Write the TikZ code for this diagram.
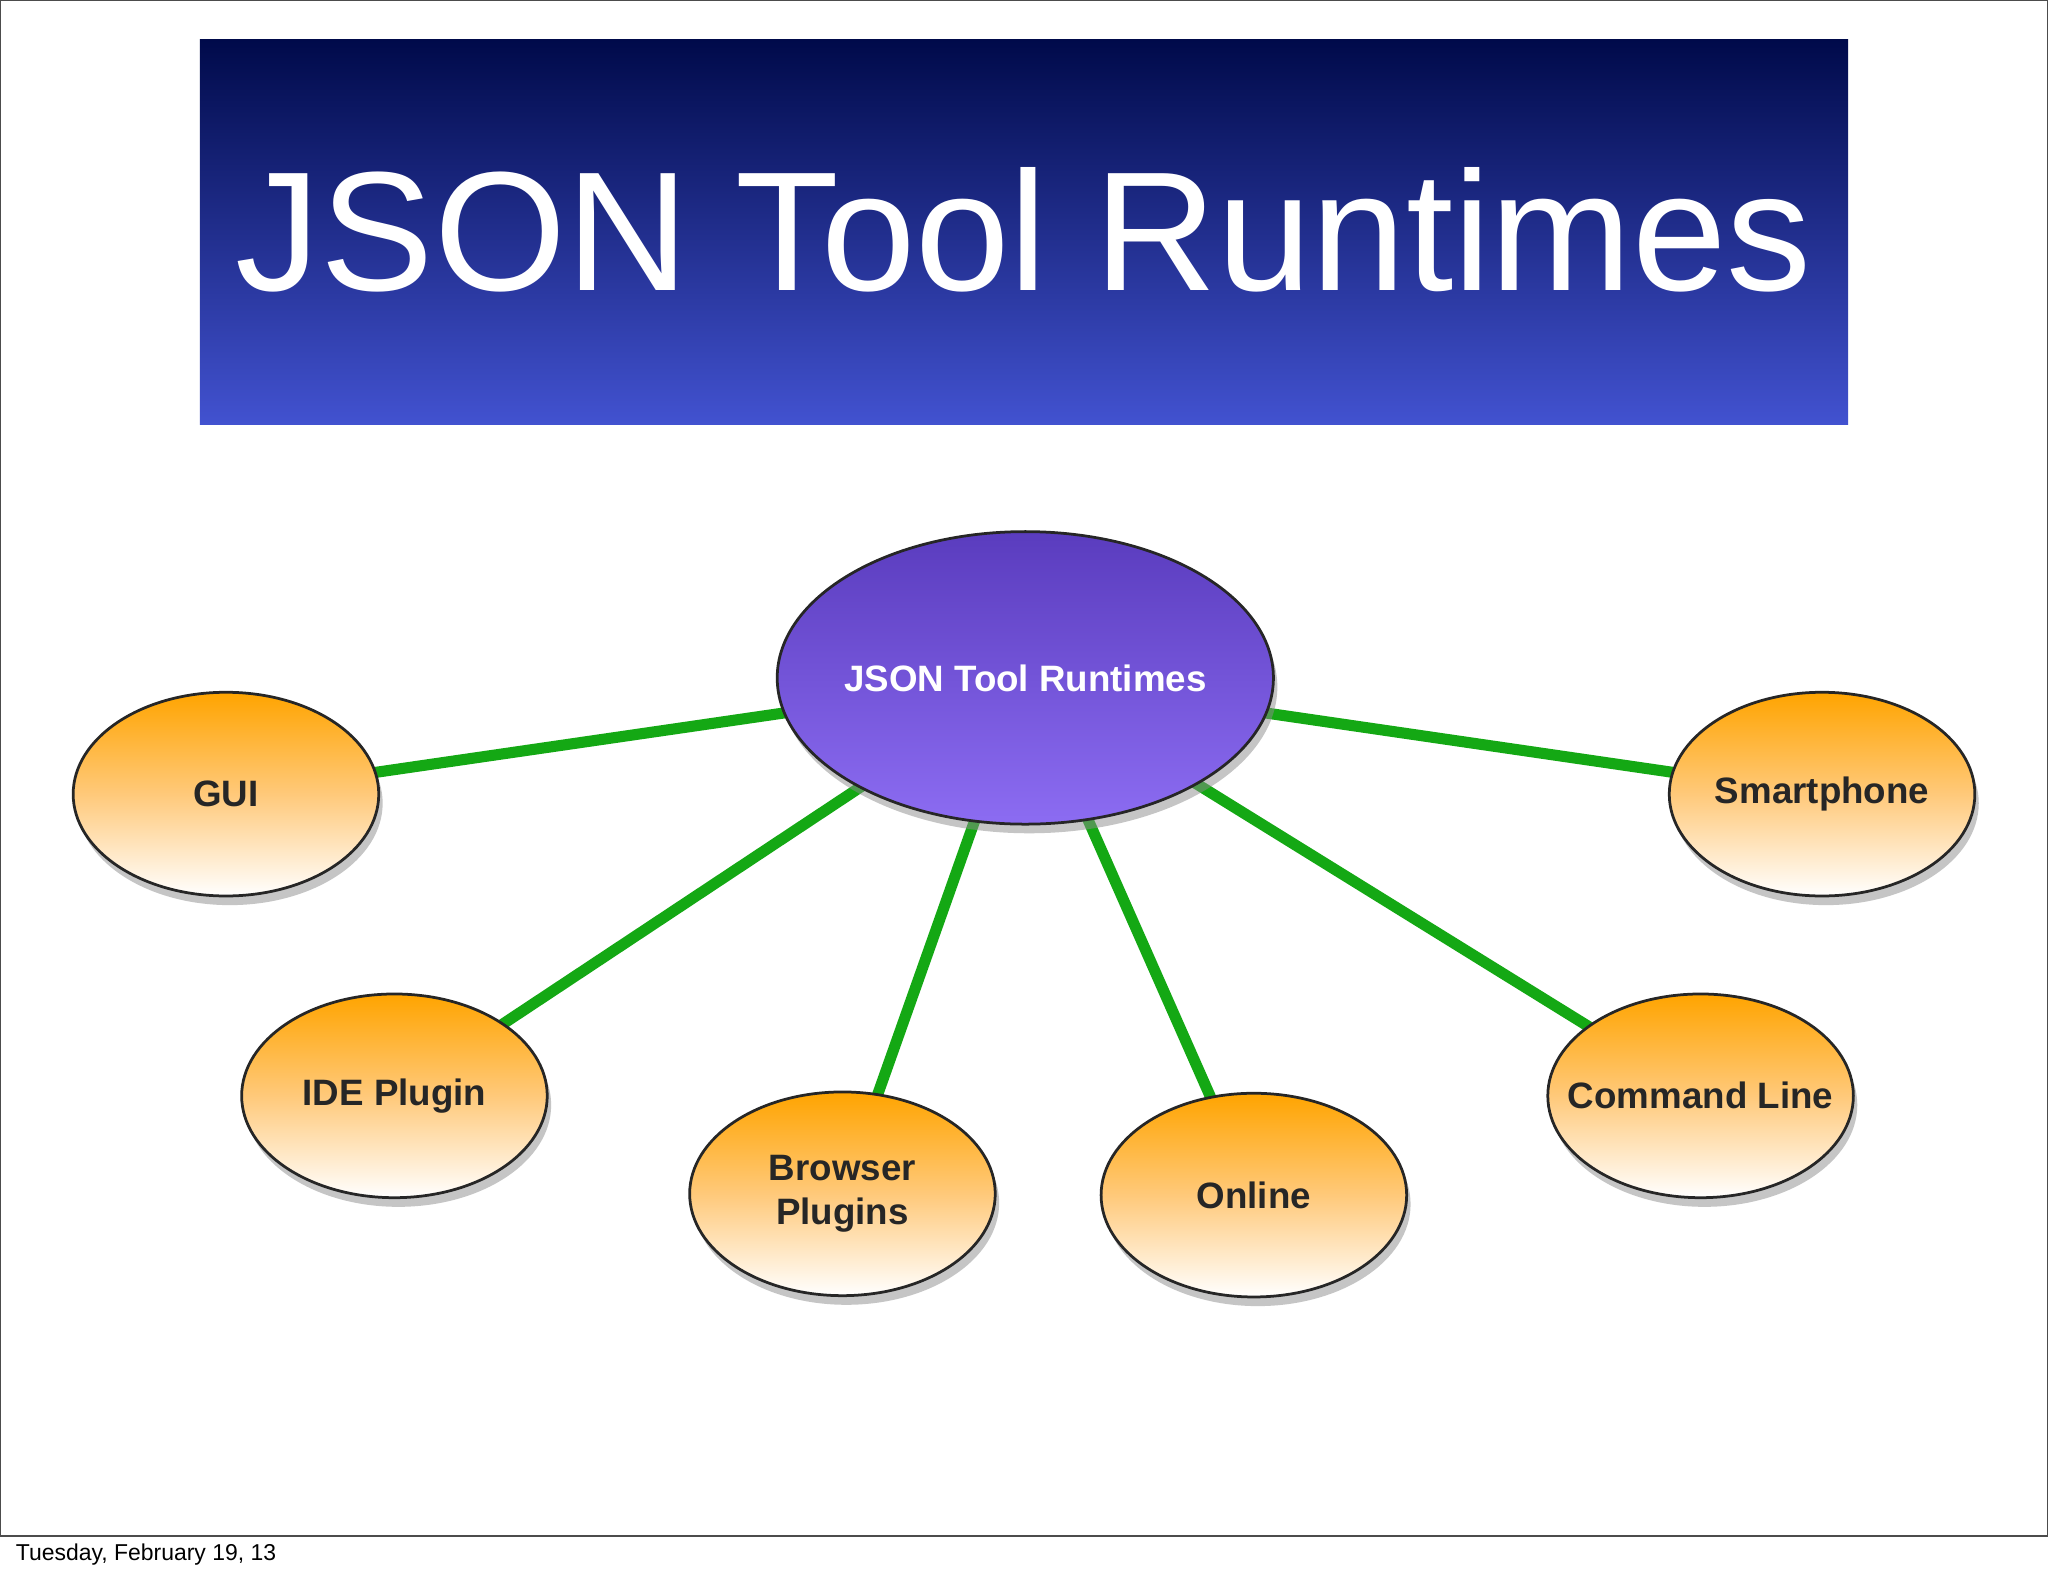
\documentclass[tikz,border=0pt]{standalone}
\usepackage{fontspec}
\setmainfont{Liberation Sans}
\usetikzlibrary{shadows,shapes.geometric}
\definecolor{lgreen}{HTML}{14A814}
\definecolor{navytop}{HTML}{000A4A}
\definecolor{navybot}{HTML}{4252D0}
\definecolor{purtop}{HTML}{5A3CBE}
\definecolor{purbot}{HTML}{8C6CF2}
\definecolor{orgtop}{HTML}{FFA400}
\definecolor{orgmid}{HTML}{FFC97A}
\tikzset{
 leaf/.style={ellipse,draw=black!85,line width=1.2pt,minimum width=4.68cm,minimum height=3.12cm,inner sep=0pt,
   top color=orgtop,bottom color=white,middle color=orgmid,
   drop shadow={shadow xshift=0.06cm,shadow yshift=-0.14cm,fill=black!45},
   label={[font=\fontsize{16}{19}\selectfont\bfseries,text=black!85,align=center]center:#1}},
 hub/.style={ellipse,draw=black!85,line width=1.2pt,minimum width=7.6cm,minimum height=4.48cm,inner sep=0pt,
   top color=purtop,bottom color=purbot,
   drop shadow={shadow xshift=0.06cm,shadow yshift=-0.14cm,fill=black!45},
   label={[font=\fontsize{16}{19}\selectfont\bfseries,text=white]center:#1}},
 link/.style={lgreen,line width=0.17cm}
}
\begin{document}
\begin{tikzpicture}[x=0.02cm,y=-0.02cm]
\useasboundingbox (0,0) rectangle (1568,1206);
\fill[white] (0,0) rectangle (1568,1206);
\draw[black!70,line width=0.6pt] (0.5,0.5) rectangle (1567.5,1176);
\node[anchor=west,font=\fontsize{10}{12}\selectfont] (foot) at (6,1190) {Tuesday, February 19, 13};
\shade[top color=navytop,bottom color=navybot] (153,30) rectangle (1415,325);
\node[text=white,font=\fontsize{74}{80}\selectfont] (title) at (784,176) {JSON Tool Runtimes};
\coordinate (hc) at (785,519);
\coordinate (gc) at (173,608);
\coordinate (ic) at (302,839);
\coordinate (bc) at (645,914);
\coordinate (oc) at (960,915);
\coordinate (cc) at (1302,839);
\coordinate (sc) at (1395,608);
\foreach \n in {gc,ic,bc,oc,cc,sc} \draw[link] (hc) -- (\n);
\node[hub={JSON Tool Runtimes}] (hub) at (hc) {};
\node[leaf={GUI}] (gui) at (gc) {};
\node[leaf={IDE Plugin}] (ide) at (ic) {};
\node[leaf={Browser\\Plugins}] (br) at (bc) {};
\node[leaf={Online}] (on) at (oc) {};
\node[leaf={Command Line}] (cl) at (cc) {};
\node[leaf={Smartphone}] (sp) at (sc) {};
\end{tikzpicture}
\end{document}
